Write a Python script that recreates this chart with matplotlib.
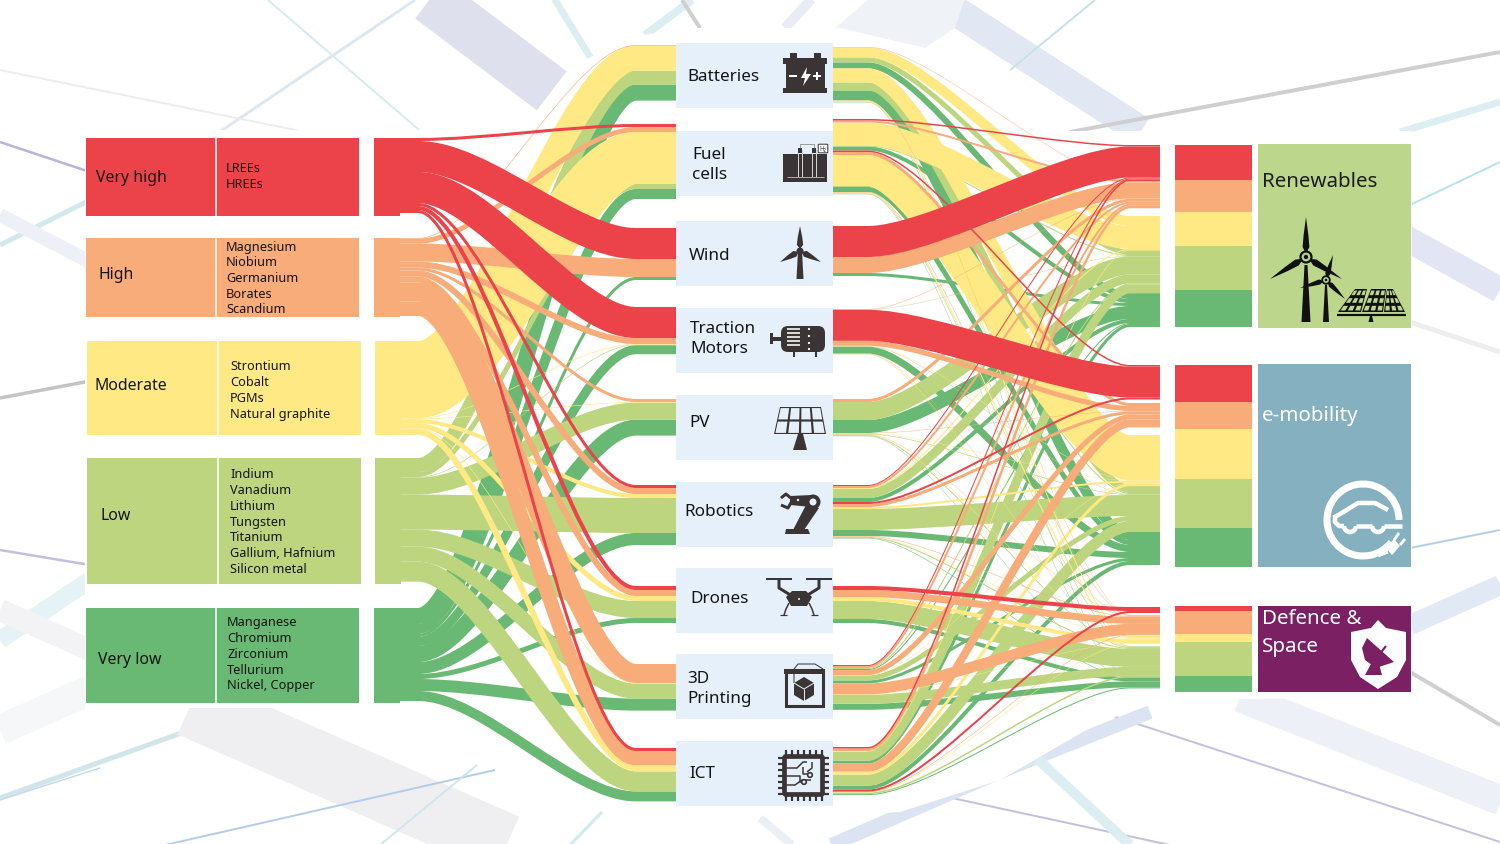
import numpy as np
import matplotlib
matplotlib.use("Agg")
import matplotlib.pyplot as plt
from matplotlib.path import Path
from matplotlib.patches import PathPatch, Rectangle, Circle, Polygon, FancyBboxPatch, Arc

plt.rcParams['font.family'] = ['Noto Sans', 'DejaVu Sans']

# ---------- data ----------
risk_levels = ['Very high', 'High', 'Moderate', 'Low', 'Very low']
materials = [['LREEs', 'HREEs'],
             ['Magnesium', 'Niobium', 'Germanium', 'Borates', 'Scandium'],
             ['Strontium', 'Cobalt', 'PGMs', 'Natural graphite'],
             ['Indium', 'Vanadium', 'Lithium', 'Tungsten', 'Titanium', 'Gallium, Hafnium', 'Silicon metal'],
             ['Manganese', 'Chromium', 'Zirconium', 'Tellurium', 'Nickel, Copper']]
technologies = ['Batteries', 'Fuel\ncells', 'Wind', 'Traction\nMotors', 'PV', 'Robotics', 'Drones', '3D\nPrinting', 'ICT']
sectors = ['Renewables', 'e-mobility', 'Defence &\nSpace']

# risk level -> technology, one column per technology
very_high = [0, 3, 31, 31, 0, 3, 4, 0, 3]
high = [0.6, 5, 18, 6, 3, 6, 6, 19, 14.4]
moderate = [25, 52, 0, 0.6, 0.6, 4, 5, 0.6, 6]
low = [14, 5, 0, 0.6, 17, 35, 17, 15, 20]
very_low = [16, 10, 3, 9, 16, 12, 5, 12, 10]

# technology -> sector, one row per risk level
to_renewables = [[0, 1.5, 31, 0, 0, 1, 0, 1, 1.5],
                 [0.4, 2, 16, 0.4, 3, 2, 0, 2, 2.5],
                 [10, 23, 0, 0, 0, 1, 0, 0, 0.6],
                 [5, 1, 0, 0.4, 18, 9, 0, 1, 9],
                 [6, 4, 3, 0, 13, 4, 0, 1, 3]]
to_emobility = [[0, 1.5, 0, 31, 0, 2, 0, 0, 0],
                [0, 3, 0, 5, 0.4, 3, 0, 5, 8],
                [14, 31, 0, 0.4, 0.4, 2, 0, 0.4, 3],
                [8, 1, 0, 0.4, 0.6, 21, 0, 5, 11],
                [10, 5, 0, 7, 0, 6, 0, 3, 4]]
to_defence = [[0, 0, 0, 0, 0, 0, 4, 0, 2],
              [0.3, 0.4, 0, 0.3, 0.3, 0.5, 7, 11, 0.5],
              [1, 1, 0, 0.3, 0.4, 0.4, 4, 0.4, 0.5],
              [0.3, 0.5, 0, 0.3, 0.8, 1, 18, 9, 1.5],
              [0.3, 0.3, 0, 0, 0.3, 0.5, 4, 6, 1]]

# sector colour bars, y limits
renewables_bar = [145, 180, 212, 246, 290, 327]
emobility_bar = [365, 402, 429, 479, 528, 567]
defence_bar = [606, 611, 634, 642, 676, 692]

# ---------- layout in pixels ----------
colors = ['#EC434A', '#F7AC79', '#FFE985', '#BCD57E', '#69B974']
DARK = '#3a3435'
NODE_BG = '#E6F0FA'
PX = 0.72

risk_y = [(138, 216), (238, 317), (341, 435), (458, 584), (608, 703)]
risk_x = [(86, 359, 216), (86, 359, 216), (87, 361, 218), (87, 361, 218), (86, 359, 216)]
tech_box_y = [43, 131, 221, 308, 395, 482, 568, 654, 741]
tech_in_y = [45, 124, 228, 307, 399, 485, 586, 664, 748]
tech_out_y = [47, 119, 226, 309, 399, 485, 586, 665, 747]
sector_in_y = [[145, 180, 216, 250, 293],
               [365, 403, 435, 485, 530],
               [607, 615, 636, 646, 676]]

fig = plt.figure(figsize=(15, 8.45), dpi=100)
ax = fig.add_axes([0, 0, 1, 1])
ax.set_xlim(0, 1500)
ax.set_ylim(844, -1)
ax.axis('off')


def flow(x0, y0, x1, y1, xa, xb, f, width, color, z):
    # band of constant thickness with flat ends, drawn as a wide stroke
    c1 = xa + f * (xb - xa)
    c2 = xb - f * (xb - xa)
    verts = [(x0, y0), (xa, y0), (c1, y0), (c2, y1), (xb, y1), (x1, y1)]
    codes = [Path.MOVETO, Path.LINETO, Path.CURVE4, Path.CURVE4, Path.CURVE4, Path.LINETO]
    ax.add_patch(PathPatch(Path(verts, codes), fc='none', ec=color, lw=width * PX, capstyle='butt', zorder=z))


def streak(x0, y0, x1, y1, width, color):
    ax.plot([x0, x1], [y0, y1], color=color, lw=width * PX, solid_capstyle='butt', zorder=1)


def poly(pts, color=DARK, z=6):
    ax.add_patch(Polygon(pts, closed=True, fc=color, ec='none', zorder=z))


def line(xs, ys, lw, color=DARK, z=6):
    ax.plot(xs, ys, color=color, lw=lw * PX, solid_capstyle='butt', zorder=z)


def blade(hx, hy, tipx, tipy, w, color=DARK, z=6):
    d = np.array([tipx - hx, tipy - hy], dtype=float)
    n = np.array([-d[1], d[0]]) / np.hypot(*d)
    h = np.array([hx, hy])
    poly([h + 0.08 * d, h + 0.25 * d + n * w, h + 0.55 * d + n * w * 0.7, h + d,
          h + 0.55 * d - n * w * 0.7, h + 0.25 * d - n * w], color, z)


def cells(p, nu, nv, color, gu=0.12, gv=0.14):
    # grid of holes in a quadrilateral p = bottom-left, bottom-right, top-right, top-left
    p = [np.array(a, dtype=float) for a in p]
    for i in range(nu):
        for j in range(nv):
            q = []
            for u, v in (((i + gu) / nu, (j + gv) / nv), ((i + 1 - gu) / nu, (j + gv) / nv),
                         ((i + 1 - gu) / nu, (j + 1 - gv) / nv), ((i + gu) / nu, (j + 1 - gv) / nv)):
                top = p[3] + (p[2] - p[3]) * u
                bot = p[0] + (p[1] - p[0]) * u
                q.append(top + (bot - top) * v)
            poly(q, color, 7)


# ---------- background streaks ----------
streak(418, -10, 552, 91, 49, '#DFE0EE')
streak(931, -5, 1141, 131, 30, '#E2E8F3')
streak(552, -5, 592, 60, 7, '#DCEEF2')
streak(645, 35, 692, 0, 8, '#DCEEF2')
streak(682, 0, 700, 28, 4, '#CFCFCF')
ax.add_patch(Polygon([(835, 28), (925, 48), (955, 28), (965, -2), (870, -2)], closed=True, fc='#EFF3F8', ec='none', zorder=1))
streak(785, 28, 815, -5, 10, '#E8ECF5')
streak(1010, 70, 1095, 0, 2, '#C8E2E4')
streak(268, 0, 425, 135, 2, '#D5EBEE')
streak(415, 0, 215, 135, 3, '#DCE8F0')
streak(0, 70, 320, 135, 2, '#EDEDED')
streak(0, 142, 90, 172, 2.5, '#B9B5D8')
streak(0, 245, 100, 195, 5, '#D3E8EC')
streak(0, 215, 90, 262, 14, '#EEF0F7')
streak(0, 398, 90, 381, 3.5, '#C4C4C4')
streak(0, 550, 90, 565, 2.5, '#C4BFDF')
streak(0, 640, 90, 580, 18, '#E6F3F6')
streak(0, 610, 90, 650, 22, '#F3F3F5')
streak(0, 730, 90, 690, 30, '#F6F7F9')
streak(0, 798, 240, 712, 5, '#D2E6EA')
streak(0, 800, 100, 768, 1.5, '#C5D9EE')
streak(190, 706, 600, 886, 62, '#EFEFF1')
streak(165, 845, 495, 770, 2, '#B4CEEA')
streak(380, 845, 477, 765, 2, '#CFE7EC')
streak(570, 845, 602, 812, 3, '#CFEAEE')
streak(760, 818, 792, 845, 8, '#EBEFF6')
streak(1070, 132, 1500, 52, 4, '#CFCFCF')
streak(1400, 132, 1500, 102, 7, '#DCEEF2')
streak(1410, 205, 1500, 162, 2, '#B8E3EC')
streak(1400, 235, 1500, 290, 26, '#E2E6F4')
streak(1410, 322, 1500, 352, 5, '#EEEEEE')
streak(1410, 548, 1500, 530, 2, '#B4CEEA')
streak(1410, 625, 1500, 585, 20, '#E1E9F5')
streak(1410, 672, 1500, 725, 4, '#CFCFCF')
streak(1110, 715, 1500, 842, 2, '#C6C0DF')
streak(1240, 697, 1540, 816, 30, '#EEF0F8')
streak(938, 795, 1170, 845, 2, '#C6C0DF')
streak(820, 850, 1000, 772, 14, '#DCE4F3')
streak(1000, 772, 1150, 712, 14, '#DCE4F3')
streak(1030, 752, 1130, 845, 10, '#DCEEF2')
ax.add_patch(Polygon([(85, 130), (530, 130), (537, 110), (568, 70), (620, 40), (680, 28), (840, 28),
                      (925, 48), (1000, 105), (1070, 131), (1412, 131), (1412, 697), (1165, 700),
                      (1100, 722), (1000, 780), (900, 812), (800, 818), (650, 808), (560, 785),
                      (400, 722), (370, 708), (85, 708)], closed=True, fc='white', ec='none', zorder=2))

# ---------- risk level -> technology flows ----------
risk_flows = [very_high, high, moderate, low, very_low]
in_offsets = list(tech_in_y)
in_pos = {}
for r in range(5):
    for t in range(9):
        in_pos[(r, t)] = in_offsets[t]
        in_offsets[t] += risk_flows[r][t]
for r in range(4, -1, -1):
    pos = risk_y[r][0]
    flow_x0 = 375 if r in (2, 3) else 374
    ax.add_patch(Rectangle((flow_x0, risk_y[r][0]), 26, risk_y[r][1] - risk_y[r][0], fc=colors[r], ec='none', zorder=3 + (4 - r) * 0.1))
    for t in range(9):
        w = risk_flows[r][t]
        if w > 0:
            flow(flow_x0, pos + w / 2, 676, in_pos[(r, t)] + w / 2, 418, 636, 0.3, w, colors[r], 3 + (4 - r) * 0.1)
        pos += w

# ---------- technology -> sector flows ----------
sector_flows = [to_renewables, to_emobility, to_defence]
out_offsets = list(tech_out_y)
out_pos = {}
for s in range(3):
    for r in range(5):
        for t in range(9):
            out_pos[(s, r, t)] = out_offsets[t]
            out_offsets[t] += sector_flows[s][r][t]
for r in range(4, -1, -1):
    for s in range(3):
        pos = sector_in_y[s][r]
        for t in range(9):
            w = sector_flows[s][r][t]
            if w > 0:
                flow(833, out_pos[(s, r, t)] + w / 2, 1160, pos + w / 2, 868, 1130, 0.24, w, colors[r], 3 + (4 - r) * 0.1)
            pos += w

# ---------- left boxes ----------
for r in range(5):
    y0, y1 = risk_y[r]
    x0, x1, xd = risk_x[r]
    ax.add_patch(Rectangle((x0, y0), x1 - x0, y1 - y0, fc=colors[r], ec='none', zorder=4))
    line([xd, xd], [y0, y1], 1.5, 'white', 5)
label_x = [96, 98, 95, 101, 98]
label_y = [177, 274, 385, 515, 659]
mat_x = [226, 226, 230, 230, 227]
mat_top = [168, 246, 366, 474, 622]
for r in range(5):
    ax.text(label_x[r], label_y[r], risk_levels[r], fontsize=11.4, va='center', ha='left', color='#151515', zorder=6)
    for i, m in enumerate(materials[r]):
        ax.text(mat_x[r], mat_top[r] + i * 15.7, m, fontsize=9.2, va='center', ha='left', color='#151515', zorder=6)

# ---------- technology boxes ----------
tech_x = [687, 692, 689, 690, 689, 684, 690, 687, 689]
tech_y = [76, 164, 255, 338, 422, 511, 598, 688, 773]
for t in range(9):
    ax.add_patch(Rectangle((676, tech_box_y[t]), 157, 65, fc=NODE_BG, ec='none', zorder=5))
    ax.text(tech_x[t], tech_y[t], technologies[t], fontsize=12.3, va='center', ha='left', color='#151515',
            linespacing=1.35, zorder=6)

# batteries
poly([(786, 64), (825, 64), (825, 88), (786, 88)])
poly([(783, 58), (827, 58), (827, 64), (783, 64)])
poly([(783, 88), (827, 88), (827, 93), (783, 93)])
poly([(790, 53), (797, 53), (797, 58), (790, 58)])
poly([(814, 53), (821, 53), (821, 58), (814, 58)])
line([789, 797], [76, 76], 2, 'white')
line([813, 821], [76, 76], 2, 'white')
line([817, 817], [72, 80], 2, 'white')
poly([(807, 67), (801, 78), (805, 78), (803, 86), (811, 74), (806, 74)], 'white')

# fuel cells
poly([(783, 154), (827, 154), (827, 182), (783, 182)])
for x in (798, 812):
    line([x, x], [150, 177], 1, '#cfd2d6')
    line([x + 4, x + 4], [150, 177], 1, '#cfd2d6')
    poly([(x, 148), (x + 4, 148), (x + 4, 153), (x, 153)])
line([787, 824], [177, 177], 1, '#aaaaaa')
line([800, 800, 814, 814], [148, 144, 144, 148], 0.8, '#888888')
ax.add_patch(FancyBboxPatch((819, 145), 8, 7, boxstyle='round,pad=0.8', fc='white', ec=DARK, lw=0.7, zorder=6))
ax.text(823, 149, 'H₂', fontsize=4.5, ha='center', va='center', color=DARK, zorder=7)

# wind
poly([(798, 251), (802, 251), (803.5, 279), (796.5, 279)])
blade(800, 251, 800, 226, 3.2)
blade(800, 251, 780, 262, 3.2)
blade(800, 251, 821, 262, 3.2)
ax.add_patch(Circle((800, 251), 3.5, fc=DARK, ec='none', zorder=7))

# traction motor
ax.add_patch(FancyBboxPatch((784, 329), 38, 20, boxstyle='round,pad=3,rounding_size=7', fc=DARK, ec='none', zorder=6))
poly([(770, 333), (773, 333), (773, 344), (770, 344)])
poly([(773, 336.5), (782, 336.5), (782, 340.5), (773, 340.5)])
for y in (329, 333, 337, 341, 345):
    line([787, 800], [y, y], 1.6, 'white')
for y in (329, 336, 343, 349):
    ax.add_patch(Circle((809, y), 1.1, fc='white', ec='none', zorder=7))
line([794, 794], [352, 357], 2)
line([816, 816], [352, 357], 2)

# pv panel
pv_panel = [(774, 434), (826, 434), (821, 407), (780, 407)]
poly(pv_panel)
cells(pv_panel, 4, 2, NODE_BG, 0.09, 0.08)
poly([(798, 434), (803, 434), (807, 450), (793, 450)])

# robotics
poly([(786, 529), (808, 529), (810, 534), (785, 534)])
poly([(806, 505), (819, 508), (804, 530), (793, 530)])
poly([(790, 496), (812, 495), (812, 507), (790, 505)])
ax.add_patch(Circle((813, 502), 7.5, fc=DARK, ec='none', zorder=7))
ax.add_patch(Circle((813, 502), 3.5, fc=NODE_BG, ec='none', zorder=7))
line([792, 786, 781], [499, 494, 498], 3)
line([792, 788, 781], [501, 508, 505], 3)
ax.add_patch(Circle((798, 500), 1.2, fc=NODE_BG, ec='none', zorder=7))

# drones
line([766, 792], [579, 579], 2)
line([806, 832], [579, 579], 2)
line([779, 779, 792], [579, 588, 596], 3)
line([819, 819, 806], [579, 588, 596], 3)
poly([(792, 591), (806, 591), (812, 597), (807, 606), (791, 606), (786, 597)])
line([789, 786, 784], [603, 609, 615], 1.5)
line([809, 812, 814], [603, 609, 615], 1.5)
line([780, 787], [615, 615], 1.2)
line([811, 818], [615, 615], 1.2)
ax.add_patch(Circle((799, 599), 1, fc=NODE_BG, ec='none', zorder=7))

# 3d printing
ax.add_patch(Rectangle((785.5, 670), 37, 36, fc='none', ec=DARK, lw=2.2, zorder=6))
poly([(784, 669), (824, 669), (824, 674), (784, 674)])
poly([(804, 677), (814, 683), (814, 695), (804, 701), (794, 695), (794, 683)])
line([794, 804, 814], [683, 689, 683], 1, NODE_BG, 7)
line([804, 804], [689, 701], 1, NODE_BG, 7)
line([794, 794, 798, 815, 823], [683, 669, 664, 664, 669], 1)

# ict chip
ax.add_patch(FancyBboxPatch((786, 758), 35, 35, boxstyle='round,pad=1.5', fc=NODE_BG, ec=DARK, lw=3.4, zorder=6))
for k in range(7):
    line([785.5 + k * 6, 785.5 + k * 6], [750, 756], 2.2)
    line([785.5 + k * 6, 785.5 + k * 6], [795, 801], 2.2)
    line([778, 784], [757.5 + k * 6, 757.5 + k * 6], 2.2)
    line([823, 829], [757.5 + k * 6, 757.5 + k * 6], 2.2)
line([786, 797, 803, 807], [768, 768, 762, 762], 1.5)
line([786, 800, 800], [776, 776, 783], 1.5)
line([786, 795, 802, 811], [785, 785, 780, 780], 1.5)
line([807, 812, 812], [772, 768, 762], 1.5)
line([803, 803, 808], [767, 774, 774], 1.5)
ax.add_patch(Circle((810, 775), 2.3, fc=NODE_BG, ec=DARK, lw=1.2, zorder=7))
ax.add_patch(Circle((804, 782), 2.3, fc=NODE_BG, ec=DARK, lw=1.2, zorder=7))

# ---------- sector bars and tiles ----------
bars = [renewables_bar, emobility_bar, defence_bar]
for b in bars:
    for i in range(5):
        ax.add_patch(Rectangle((1175, b[i]), 77, b[i + 1] - b[i], fc=colors[i], ec='none', zorder=4))
tile_y = [(144, 328), (364, 567), (606, 692)]
tile_c = ['#BCD68C', '#84B0BF', '#7C2064']
text_c = ['#1e1e1e', 'white', 'white']
text_y = [181, 415, 632]
for s in range(3):
    y0, y1 = tile_y[s]
    ax.add_patch(Rectangle((1258, y0), 153, y1 - y0, fc=tile_c[s], ec='none', zorder=4))
    ax.text(1262, text_y[s], sectors[s], fontsize=14.8, va='center', ha='left', color=text_c[s],
            linespacing=1.55, fontweight='light', zorder=6)

# renewables icon
BLK = '#111111'
poly([(1304.5, 265), (1307.5, 265), (1310.5, 322), (1301.5, 322)], BLK)
blade(1306, 257, 1306, 217, 3.4, BLK)
blade(1306, 257, 1270, 279, 3.4, BLK)
blade(1306, 257, 1342, 279, 3.4, BLK)
ax.add_patch(Circle((1306, 257), 5.5, fc='#BCD68C', ec=BLK, lw=1.6, zorder=7))
ax.add_patch(Circle((1306, 257), 2.2, fc=BLK, ec='none', zorder=8))
poly([(1325, 285), (1327, 285), (1329, 322), (1323, 322)], BLK)
blade(1326, 280, 1333, 255, 2.6, BLK)
blade(1326, 280, 1300, 288, 2.6, BLK)
blade(1326, 280, 1345, 299, 2.6, BLK)
ax.add_patch(Circle((1326, 280), 3.8, fc='#BCD68C', ec=BLK, lw=1.3, zorder=7))
ax.add_patch(Circle((1326, 280), 1.3, fc=BLK, ec='none', zorder=8))
solar_panels = [[(1338, 312), (1361, 312), (1367, 289), (1355, 289)],
                [(1362, 312), (1383, 312), (1386, 289), (1371, 289)],
                [(1384, 312), (1405, 312), (1393, 289), (1387, 289)]]
for p in solar_panels:
    poly(p, BLK)
    cells(p, 3, 3, '#BCD68C', 0.17, 0.2)
line([1337, 1406], [314.5, 314.5], 2.2, BLK)
poly([(1370, 316), (1372, 316), (1373.5, 322), (1368.5, 322)], BLK)

# e-mobility icon
ax.add_patch(Arc((1363, 520), 72, 72, theta1=38, theta2=360, lw=7 * PX, ec='white', zorder=6))
line([1335, 1345, 1358, 1375, 1388], [517, 511, 503, 503, 510], 4.5, 'white')
line([1335, 1335, 1339, 1344], [515, 522, 526, 526], 4.5, 'white')
line([1356, 1372], [526, 526], 4.5, 'white')
line([1384, 1402], [526, 526], 4.5, 'white')
for cx in (1350, 1378):
    ax.add_patch(Arc((cx, 526), 12, 12, theta1=0, theta2=180, lw=4.5 * PX, ec='white', zorder=6))
poly([(1386, 548), (1394, 539), (1400, 546), (1392, 555)], 'white', 7)
line([1394, 1399], [540, 533], 2.8, 'white', 7)
line([1400, 1405], [545, 539], 2.8, 'white', 7)
line([1388, 1378], [552, 556], 3, 'white', 7)

# defence icon
poly([(1378, 620), (1386, 628), (1406, 632), (1406, 660), (1397, 677), (1378, 689), (1360, 677), (1351, 660), (1351, 632), (1371, 628)], 'white')
poly([(1367, 638), (1362, 648), (1365, 660), (1376, 668), (1394, 662)], '#7C2064', 7)
poly([(1372, 662), (1365, 675), (1382, 675), (1379, 664)], '#7C2064')
line([1379, 1386], [655, 646], 2.2, '#7C2064', 7)

fig.savefig('out.png', dpi=100)
